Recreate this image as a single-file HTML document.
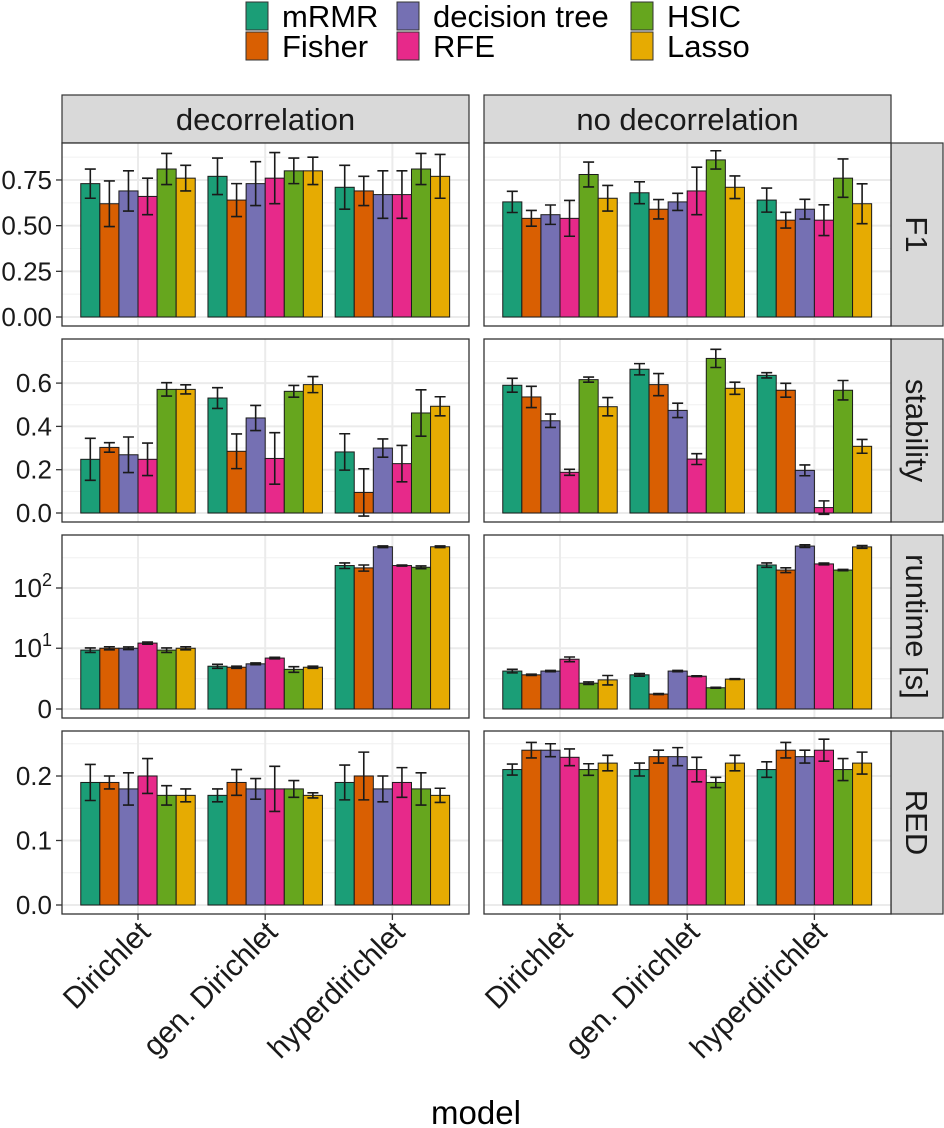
<!DOCTYPE html>
<html><head><meta charset="utf-8"><style>
body{margin:0;background:#fff;}
svg{display:block;font-family:"Liberation Sans",Arial,sans-serif;}
</style></head><body>
<svg id="chart" width="944" height="1128" viewBox="0 0 944 1128" xmlns="http://www.w3.org/2000/svg"></svg>
<script>
const methods = ["mRMR","Fisher","decision tree","RFE","HSIC","Lasso"];
const colors = ["#1B9E77","#D95F02","#7570B3","#E7298A","#66A61E","#E6AB02"];
const models = ["Dirichlet","gen. Dirichlet","hyperdirichlet"];
const facetCols = ["decorrelation","no decorrelation"];
const metrics = ["F1","stability","runtime [s]","RED"];
const f1Vals = [
 [[0.73,0.62,0.69,0.66,0.81,0.76],[0.77,0.64,0.73,0.76,0.80,0.80],[0.71,0.69,0.67,0.67,0.81,0.77]],
 [[0.63,0.54,0.56,0.54,0.78,0.65],[0.68,0.59,0.63,0.69,0.86,0.71],[0.64,0.53,0.59,0.53,0.76,0.62]]];
const f1Err = [
 [[0.08,0.125,0.11,0.10,0.085,0.07],[0.10,0.09,0.12,0.14,0.07,0.075],[0.12,0.08,0.13,0.13,0.085,0.12]],
 [[0.058,0.043,0.053,0.098,0.068,0.07],[0.06,0.053,0.047,0.13,0.05,0.062],[0.066,0.043,0.054,0.084,0.105,0.109]]];
const stabVals = [
 [[0.248,0.303,0.269,0.248,0.571,0.571],[0.531,0.285,0.439,0.252,0.562,0.593],[0.282,0.095,0.300,0.228,0.462,0.493]],
 [[0.59,0.536,0.426,0.188,0.616,0.491],[0.664,0.593,0.474,0.249,0.714,0.576],[0.636,0.567,0.197,0.025,0.567,0.308]]];
const stabErr = [
 [[0.097,0.022,0.082,0.075,0.031,0.021],[0.048,0.08,0.058,0.119,0.027,0.037],[0.084,0.109,0.042,0.084,0.107,0.044]],
 [[0.032,0.049,0.031,0.014,0.012,0.042],[0.026,0.051,0.033,0.025,0.042,0.028],[0.012,0.032,0.025,0.031,0.045,0.032]]];
const runVals = [
 [[9.3,10,10,12.2,9.3,10],[4.9,4.7,5.4,6.8,4.3,4.7],[235,215,480,235,220,480]],
 [[4.0,3.4,4.0,6.5,2.3,2.7],[3.4,1.2,4.0,3.2,1.8,2.8],[240,198,493,250,198,478]]];
const runErr = [
 [[0.8,0.6,0.5,0.5,0.8,0.6],[0.4,0.2,0.2,0.2,0.5,0.2],[25,25,15,5,12,15]],
 [[0.3,0.1,0.1,0.6,0.15,0.6],[0.2,0.05,0.1,0.05,0.05,0.05],[20,18,25,8,5,25]]];
const redVals = [
 [[0.19,0.19,0.18,0.20,0.17,0.17],[0.17,0.19,0.18,0.18,0.18,0.17],[0.19,0.20,0.18,0.19,0.18,0.17]],
 [[0.21,0.24,0.24,0.229,0.21,0.22],[0.21,0.23,0.23,0.21,0.19,0.22],[0.21,0.24,0.23,0.24,0.21,0.22]]];
const redErr = [
 [[0.028,0.01,0.025,0.027,0.015,0.01],[0.01,0.02,0.016,0.035,0.013,0.004],[0.027,0.037,0.02,0.023,0.025,0.011]],
 [[0.0085,0.012,0.01,0.013,0.009,0.012],[0.01,0.01,0.014,0.019,0.008,0.012],[0.012,0.012,0.01,0.017,0.017,0.017]]];
const f1Ticks = [0,0.25,0.5,0.75], f1TickLabels = ["0.00","0.25","0.50","0.75"];
const stabTicks = [0,0.2,0.4,0.6], stabTickLabels = ["0.0","0.2","0.4","0.6"];
const runTicks = [0,10,100];
const redTicks = [0,0.1,0.2], redTickLabels = ["0.0","0.1","0.2"];

const NS = "http://www.w3.org/2000/svg";
const svg = document.getElementById("chart");
function mk(tag, attrs, parent){const e=document.createElementNS(NS,tag);for(const k in attrs)e.setAttribute(k,attrs[k]);(parent||svg).appendChild(e);return e;}

const panelX = [62,484], panelW = 407;
const rowTop = [143,339,535,731], panelH = 183, zeroOff = 174;
const pseudo = v => Math.asinh(v/2)/Math.LN10;
const rows = [
 {vals:f1Vals,err:f1Err,ticks:f1Ticks,labels:f1TickLabels,f:v=>v,scale:182.7,minor:[0.125,0.375,0.625,0.875]},
 {vals:stabVals,err:stabErr,ticks:stabTicks,labels:stabTickLabels,f:v=>v,scale:216.5,minor:[0.1,0.3,0.5,0.7]},
 {vals:runVals,err:runErr,ticks:runTicks,labels:null,f:pseudo,scale:60.5,minorG:[0.5,1.5,2.5]},
 {vals:redVals,err:redErr,ticks:redTicks,labels:redTickLabels,f:v=>v,scale:645,minor:[0.05,0.15,0.25]}];
const xCenter = (c,m) => panelX[c] + 76 + m*127.2;
const bw = 127.2*0.9/6;

facetCols.forEach((name,c)=>{
  const g=mk("g",{});
  
  
  mk("rect",{x:panelX[c],y:95,width:panelW,height:48,fill:"#d9d9d9",stroke:"#333","stroke-width":1.2},g);
  const t=mk("text",{x:panelX[c]+panelW/2,y:130,"text-anchor":"middle","font-size":31,fill:"#1a1a1a"},g);t.textContent=name;
});

rows.forEach((r,ri)=>{
  const top=rowTop[ri], y0=top+zeroOff;
  const Y = v => y0 - r.f(v)*r.scale;
  const sg=mk("g",{});
  
  
  mk("rect",{x:891,y:top,width:52,height:panelH,fill:"#d9d9d9",stroke:"#333","stroke-width":1.2},sg);
  const st=mk("text",{x:0,y:0,"text-anchor":"middle","font-size":31,fill:"#1a1a1a",transform:`translate(906,${top+panelH/2}) rotate(90)`},sg);st.textContent=metrics[ri];
  for(let c=0;c<2;c++){
    const pg=mk("g",{});
    
    
    const px=panelX[c];
    mk("rect",{x:px,y:top,width:panelW,height:panelH,fill:"#fff"},pg);
    const minorYs = r.minorG ? r.minorG.map(g=>y0-g*r.scale) : r.minor.map(Y);
    minorYs.forEach(yy=>{ if(yy>top) mk("line",{x1:px,x2:px+panelW,y1:yy,y2:yy,stroke:"#f0f0f0","stroke-width":1},pg);});
    r.ticks.forEach(t=>mk("line",{x1:px,x2:px+panelW,y1:Y(t),y2:Y(t),stroke:"#ebebeb","stroke-width":2},pg));
    models.forEach((m,mi)=>mk("line",{x1:xCenter(c,mi),x2:xCenter(c,mi),y1:top,y2:top+panelH,stroke:"#ebebeb","stroke-width":2},pg));
    models.forEach((m,mi)=>{
      methods.forEach((me,k)=>{
        const v=r.vals[c][mi][k], e=r.err[c][mi][k];
        const bx=xCenter(c,mi)-3*bw+k*bw;
        const b=mk("rect",{x:bx,y:Y(v),width:bw,height:y0-Y(v),fill:colors[k],stroke:"#1a1a1a","stroke-width":1},pg);
        
        
        const cx=bx+bw/2, hi=Y(v+e), lo=Y(Math.max(v-e, ri==2?0:-1));
        const eb=mk("path",{d:`M${cx-5.5},${hi}H${cx+5.5}M${cx},${hi}V${lo}M${cx-5.5},${lo}H${cx+5.5}`,stroke:"#1a1a1a","stroke-width":1.6,fill:"none"},pg);
        
        
      });
    });
    mk("rect",{x:px,y:top,width:panelW,height:panelH,fill:"none",stroke:"#333","stroke-width":1.3},pg);
  }
  r.ticks.forEach((t,ti)=>{
    mk("line",{x1:56,x2:62,y1:Y(t),y2:Y(t),stroke:"#333","stroke-width":1.3});
    const tx=mk("text",{x:52,y:Y(t)+9,"text-anchor":"end","font-size":26,fill:"#1a1a1a"});
    
    
    if(r.labels){tx.textContent=r.labels[ti];}
    else if(t===0){tx.textContent="0";}
    else{tx.textContent="10";const sp=mk("tspan",{dy:-11,"font-size":18},tx);sp.textContent=String(Math.round(Math.log10(t)));}
  });
});

for(let c=0;c<2;c++){
  models.forEach((m,mi)=>{
    const x=xCenter(c,mi);
    mk("line",{x1:x,x2:x,y1:914,y2:920,stroke:"#333","stroke-width":1.3});
    const t=mk("text",{x:0,y:0,"text-anchor":"end","font-size":30,fill:"#1a1a1a",transform:`translate(${x+14},${934}) rotate(-45)`});
    
    
    t.textContent=m;
  });
}
const xt=mk("text",{x:476,y:1124,"text-anchor":"middle","font-size":33,fill:"#000"});


xt.textContent="model";

const legPos=[[246,1],[246,31],[397,1],[397,31],[631,1],[631,31]];
methods.forEach((me,k)=>{
  const g=mk("g",{});
  
  
  const [lx,ly]=legPos[k];
  mk("rect",{x:lx,y:ly+1,width:22,height:28,fill:colors[k],stroke:"#333","stroke-width":1},g);
  const t=mk("text",{x:lx+36,y:ly+26,"font-size":31,fill:"#000"},g);t.textContent=me;
});
</script>
</body></html>
